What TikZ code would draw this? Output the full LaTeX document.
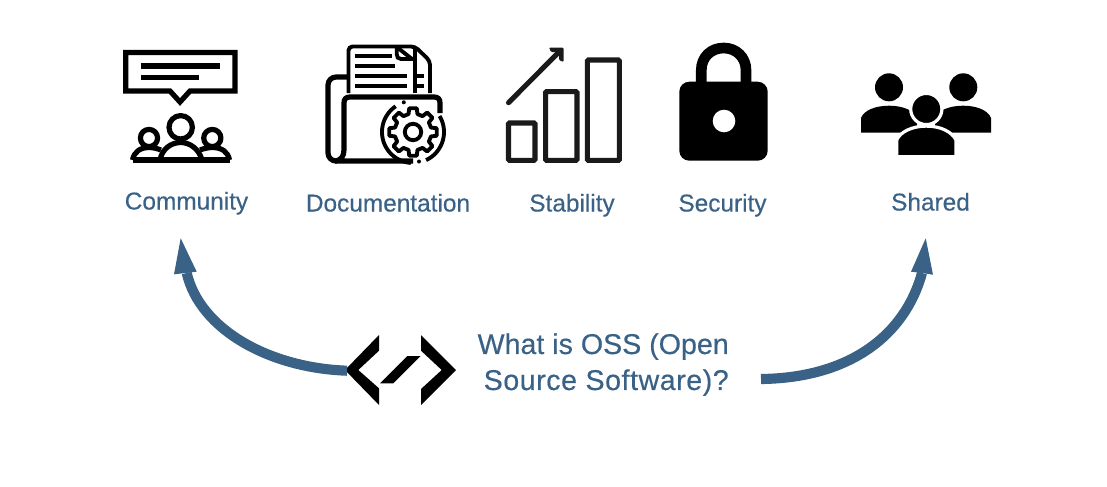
\documentclass[tikz,border=0pt]{standalone}
\usepackage{fontspec}
\setmainfont{Liberation Sans}
\usetikzlibrary{arrows.meta}
\definecolor{oss}{HTML}{3A6286}
\definecolor{bars}{HTML}{1A1A1A}
\tikzset{
  label/.style={font=\fontsize{18.3pt}{27pt}\selectfont\addfontfeature{FakeBold=0.4},text=oss,inner sep=0pt,anchor=base},
  ink/.style={draw=black,line width=3.9pt,fill=none,line join=round},
  thin/.style={draw=black,line width=2.9pt,fill=none},
  barbox/.style={draw=bars,line width=3.8pt,fill=none,rounded corners=0.8pt},
  bigarrow/.style={draw=oss,line width=7.6pt},
  bighead/.style={fill=oss,draw=none},
  solid/.style={fill=black,draw=none},
}
\begin{document}
\begin{tikzpicture}[x=0.75pt,y=-0.75pt]
\useasboundingbox (0,0) rectangle (1107,486);
% Community icon
\draw[ink,line join=miter] (125.8,52.5) -- (235,52.5) -- (235,91) -- (190,91) -- (180,102) -- (170,91) -- (125.8,91) -- cycle;
\fill (141,63) rectangle (220,69);
\fill (141,74.5) rectangle (199,80);
\draw[ink] (180.7,127.3) circle (11.7);
\draw[ink] (149,138) circle (8.6);
\draw[ink] (212.3,138) circle (8.6);
\draw[ink] (132.5,160) -- (229.5,160);
\draw[ink] (160,160) .. controls (162,149) and (171,142.5) .. (180.7,142.5) .. controls (190,142.5) and (199,149) .. (202,160);
\draw[ink] (132.5,160) .. controls (134,152) and (140,147.5) .. (149,147.5) .. controls (153,147.5) and (157,148.5) .. (161,150);
\draw[ink] (229.5,160) .. controls (228,152) and (222,147.5) .. (212.5,147.5) .. controls (208,147.5) and (204,148.5) .. (200,150);
% Documentation icon
\draw[thin,rounded corners=3pt] (348.5,93) -- (348.5,46.5) -- (415,46.5) -- (430,61) -- (430,93);
\draw[thin] (415,47) -- (415,93);
\draw[thin] (396.7,47) -- (396.7,54) .. controls (396.7,57) and (398,59) .. (401,59) -- (415,59);
\draw[thin] (398,48) -- (412,59);
\foreach \yy/\xx in {56/391.7,65.7/395,76/406.7,86/406.7} \draw[thin] (355,\yy) -- (\xx,\yy);
\draw[thin] (416,76) -- (424,76);
\draw[thin] (416,86) -- (424,86);
\draw[ink,rounded corners=6pt] (348,77) -- (328,77) -- (328,161) -- (337,161);
\draw[ink] (413,161) -- (336,161) .. controls (341,160) and (344,156) .. (344,150) -- (344,103) .. controls (344,99) and (346,97) .. (350,97) -- (434,97) .. controls (438,97) and (440,99) .. (440,103) -- (440,113);
\draw[thin] (413,132) circle (8.2);
\draw[thin,line join=round] ({413+18.5*cos(-14)},{132+18.5*sin(-14)}) \foreach \k in {0,45,...,315} { -- ({413+18.5*cos(\k-14)},{132+18.5*sin(\k-14)}) -- ({413+24*cos(\k-9)},{132+24*sin(\k-9)}) -- ({413+24*cos(\k+9)},{132+24*sin(\k+9)}) -- ({413+18.5*cos(\k+14)},{132+18.5*sin(\k+14)}) } -- cycle;
\draw[thin] plot[domain=94:236,samples=40] ({413+31*cos(\x)},{132+31*sin(\x)});
\draw[thin] plot[domain=-31:65,samples=30] ({413+31*cos(\x)},{132+31*sin(\x)});
\fill (403.8,102.3) circle (2);
\fill (419,161.5) circle (2);
% Stability icon
\draw[barbox] (508.5,123) rectangle (535,160.4);
\draw[barbox] (545.6,91.6) rectangle (577,160.4);
\draw[barbox] (587.4,60) rectangle (619.4,160.4);
\draw[draw=bars,line width=3.8pt,line cap=round] (508.5,102.7) -- (559,52);
\fill[bars,rounded corners=0.8pt] (549,47.5) -- (563.5,47.5) -- (563.5,62) -- (559,60) -- (559,52) -- (551,52) -- cycle;
% Security icon
\fill[rounded corners=7.5pt] (679.3,81.7) rectangle (767.7,160.7);
\draw[line width=8pt] (701.3,84) -- (701.3,70.3) .. controls (701.3,57) and (711,48) .. (723.7,48) .. controls (736,48) and (746,57) .. (746,70.3) -- (746,84);
\fill[white] (724,121) circle (11.3);
% Shared icon
\fill (889,87.3) circle (14);
\fill (963.3,87.3) circle (14);
\path[solid] (861,132.7) -- (861,118) .. controls (864,110) and (876,105.7) .. (889,105.7) .. controls (902,105.7) and (914,110) .. (917,118) -- (917,132.7) -- cycle;
\path[solid] (935,132.7) -- (935,118) .. controls (938,110) and (950,105.7) .. (963.3,105.7) .. controls (976,105.7) and (988,110) .. (991,118) -- (991,132.7) -- cycle;
\draw[white,line width=2.4pt,fill=black] (926.3,109) circle (15.6);
\draw[white,line width=2.4pt,fill=black] (896.7,158) -- (896.7,140) .. controls (900,132) and (912,126.1) .. (926.3,126.1) .. controls (941,126.1) and (952,132) .. (956,140) -- (956,158) -- cycle;
\fill[white] (890,155) rectangle (965,165);
% Labels
\node[label] (community) at (186.5,209.5) {Community};
\node[label] (documentation) at (388,211.5) {Documentation};
\node[label] (stability) at (572,211.5) {Stability};
\node[label] (security) at (722.5,211.5) {Security};
\node[label] (shared) at (930.5,210.5) {Shared};
% Code icon
\node[inner sep=0pt,minimum width=110pt,minimum height=70pt,anchor=center] (code) at (400.5,370) {};
\path[solid] (379,335) -- (345,370) -- (379,405) -- (379,388.3) -- (358.3,370) -- (379,350.7) -- cycle;
\path[solid] (421,335) -- (456,370) -- (421,405) -- (421,389) -- (441.7,370) -- (421,350.7) -- cycle;
\path[solid] (407.3,356) -- (420.7,356) -- (393.3,383.3) -- (380,383.3) -- cycle;
% Question
\node[font=\fontsize{21.45pt}{27pt}\selectfont\addfontfeature{FakeBold=0.4},text=oss,inner sep=0pt,align=right,anchor=north east] (question) at (729,333) {What is OSS (Open\\{\addfontfeature{LetterSpace=1.9}Source Software)?}};
% Arrows
\coordinate (astart) at (347,370.7);
\coordinate (aend) at (186.7,273);
\coordinate (bstart) at (761,379);
\coordinate (bend) at (922,273);
\draw[bigarrow] (astart) .. controls (270,368) and (200,330) .. (aend);
\path[bighead] (180.7,238.3) -- (196.7,271.7) -- (186,273) -- (174,274.3) -- cycle;
\draw[bigarrow] (bstart) .. controls (850,378) and (905,335) .. (bend);
\path[bighead] (925.7,238.3) -- (933,274.7) -- (922,273) -- (911,271.7) -- cycle;
\end{tikzpicture}
\end{document}
